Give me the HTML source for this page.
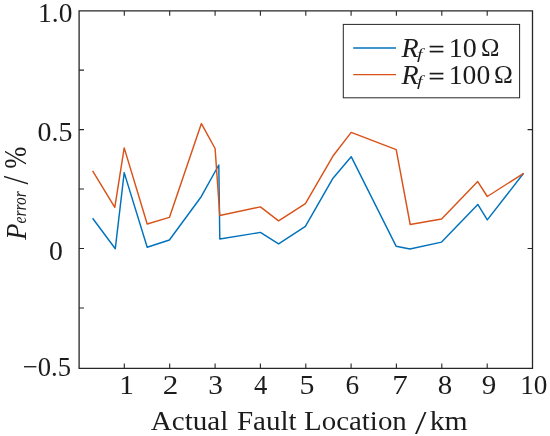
<!DOCTYPE html>
<html><head><meta charset="utf-8"><title>Fault location error</title>
<style>
html,body{margin:0;padding:0;background:#fff;}
svg{display:block}
text{font-family:"Liberation Serif",serif;font-size:27.5px;fill:#1c1c1c}
</style></head><body>
<svg width="550" height="436" viewBox="0 0 550 436">
<rect width="550" height="436" fill="#fff"/>
<path d="M124.3,368.2v-4.8 M124.3,10.9v4.8 M169.7,368.2v-4.8 M169.7,10.9v4.8 M215.1,368.2v-4.8 M215.1,10.9v4.8 M260.4,368.2v-4.8 M260.4,10.9v4.8 M305.8,368.2v-4.8 M305.8,10.9v4.8 M351.1,368.2v-4.8 M351.1,10.9v4.8 M396.4,368.2v-4.8 M396.4,10.9v4.8 M441.8,368.2v-4.8 M441.8,10.9v4.8 M487.2,368.2v-4.8 M487.2,10.9v4.8 M79.1,70.1h4.9 M79.1,129.6h4.9 M79.1,189.0h4.9 M79.1,248.5h4.9 M79.1,308.0h4.9 M532.5,129.6h-4.9 M532.5,248.5h-4.9" stroke="#262626" stroke-width="1.1" fill="none"/>
<path d="M79.1,368.35V10.9H532.5V368.35Z" fill="none" stroke="#262626" stroke-width="1.3" stroke-linejoin="miter"/>
<polyline points="92.6,218.3 115.3,248.7 124.2,172.6 147.2,247.3 169.4,240.0 201.2,196.7 218.8,165.0 219.8,239.0 260.4,232.4 278.6,243.9 305.4,226.4 333.0,178.2 351.2,156.7 396.2,246.3 409.9,249.0 441.6,242.1 477.8,204.4 487.3,219.9 523.6,173.3" fill="none" stroke="#0072BD" stroke-width="1.45" stroke-linejoin="round"/>
<polyline points="92.6,170.9 114.8,207.4 124.2,147.9 147.2,224.0 169.4,217.4 201.4,123.6 215.1,148.5 219.8,215.5 260.4,206.9 278.6,220.8 305.4,203.6 332.8,156.3 351.2,132.4 396.2,149.6 410.2,224.5 441.6,219.0 477.7,181.6 487.3,196.5 523.6,173.3" fill="none" stroke="#D95319" stroke-width="1.45" stroke-linejoin="round"/>
<text x="119.28" y="393.9" font-size="28" textLength="14.65" lengthAdjust="spacingAndGlyphs">1</text>
<text x="162.71" y="393.9" font-size="28" textLength="15.56" lengthAdjust="spacingAndGlyphs">2</text>
<text x="208.19" y="393.9" font-size="28" textLength="14.66" lengthAdjust="spacingAndGlyphs">3</text>
<text x="254.02" y="393.9" font-size="28" textLength="13.35" lengthAdjust="spacingAndGlyphs">4</text>
<text x="299.43" y="393.9" font-size="28" textLength="14.93" lengthAdjust="spacingAndGlyphs">5</text>
<text x="345.48" y="393.9" font-size="28" textLength="13.65" lengthAdjust="spacingAndGlyphs">6</text>
<text x="392.15" y="393.9" font-size="28" textLength="15.58" lengthAdjust="spacingAndGlyphs">7</text>
<text x="437.87" y="393.9" font-size="28" textLength="14.47" lengthAdjust="spacingAndGlyphs">8</text>
<text x="481.76" y="393.9" font-size="28" textLength="14.54" lengthAdjust="spacingAndGlyphs">9</text>
<text x="520.27" y="393.9" font-size="28" textLength="27.20" lengthAdjust="spacingAndGlyphs">10</text>
<text x="38.09" y="22.1" font-size="28.5" textLength="34.29" lengthAdjust="spacingAndGlyphs">1.0</text>
<text x="37.52" y="141.0" font-size="28.5" textLength="34.88" lengthAdjust="spacingAndGlyphs">0.5</text>
<text x="49.03" y="260.3" font-size="28.5" textLength="13.84" lengthAdjust="spacingAndGlyphs">0</text>
<text x="22.70" y="375.5" font-size="28.5" textLength="48.33" lengthAdjust="spacingAndGlyphs">−0.5</text>
<text y="430.2"><tspan x="150.74" textLength="77.56" lengthAdjust="spacingAndGlyphs">Actual</tspan> <tspan x="236.91" textLength="59.69" lengthAdjust="spacingAndGlyphs">Fault</tspan> <tspan x="304.01" textLength="102.81" lengthAdjust="spacingAndGlyphs">Location</tspan> <tspan x="414.90" y="433.9" font-size="34.5" textLength="11.51" lengthAdjust="spacingAndGlyphs">/</tspan> <tspan x="429.76" y="430.2" textLength="37.96" lengthAdjust="spacingAndGlyphs">km</tspan></text>
<text transform="translate(25.9,239.9) rotate(-90)" y="0"><tspan x="0.22" font-style="italic" font-size="30.4" textLength="16.31" lengthAdjust="spacingAndGlyphs">P</tspan><tspan x="16.39" y="-0.2" font-style="italic" font-size="19" textLength="32.25" lengthAdjust="spacingAndGlyphs">error</tspan><tspan x="55.50" y="2.2" font-size="35.5" textLength="8.71" lengthAdjust="spacingAndGlyphs">/</tspan><tspan x="71.25" y="0" font-size="31" textLength="22.08" lengthAdjust="spacingAndGlyphs">%</tspan></text>
<rect x="343.3" y="24.4" width="176.3" height="73.4" fill="#fff" stroke="#262626" stroke-width="1"/>
<path d="M353.2,47.9H396" stroke="#0072BD" stroke-width="1.45"/>
<path d="M353.2,74.6H396" stroke="#D95319" stroke-width="1.45"/>
<text y="56.9"><tspan x="401.60" font-style="italic" textLength="17.17" lengthAdjust="spacingAndGlyphs">R</tspan><tspan x="417.07" y="58.9" font-style="italic" font-size="15.5" textLength="5.62" lengthAdjust="spacingAndGlyphs">f</tspan><tspan x="428.58" y="57.3" font-size="23.3" textLength="16.01" lengthAdjust="spacingAndGlyphs" stroke="#1c1c1c" stroke-width="0.35">=</tspan><tspan x="448.75" y="56.9" textLength="28.07" lengthAdjust="spacingAndGlyphs">10</tspan><tspan x="480.91" y="56.4" font-size="26" textLength="18.46" lengthAdjust="spacingAndGlyphs">Ω</tspan></text>
<text y="83.7"><tspan x="401.60" font-style="italic" textLength="17.17" lengthAdjust="spacingAndGlyphs">R</tspan><tspan x="417.07" y="85.7" font-style="italic" font-size="15.5" textLength="5.62" lengthAdjust="spacingAndGlyphs">f</tspan><tspan x="428.58" y="84.1" font-size="23.3" textLength="16.01" lengthAdjust="spacingAndGlyphs" stroke="#1c1c1c" stroke-width="0.35">=</tspan><tspan x="448.79" y="83.7" textLength="41.41" lengthAdjust="spacingAndGlyphs">100</tspan><tspan x="493.98" y="83.2" font-size="26" textLength="18.81" lengthAdjust="spacingAndGlyphs">Ω</tspan></text>
</svg></body></html>
